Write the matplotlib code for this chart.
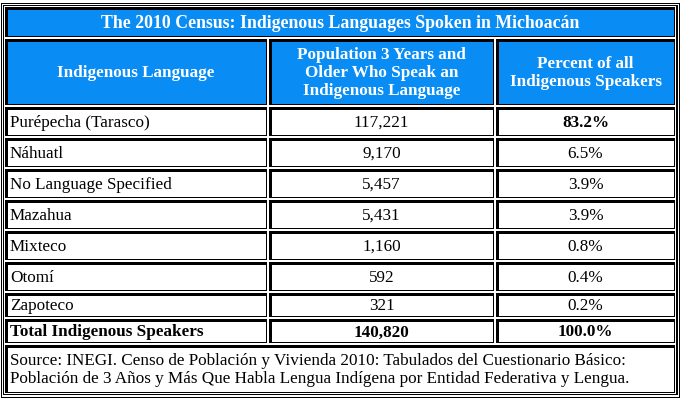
import matplotlib
matplotlib.use("Agg")
import matplotlib.pyplot as plt
from matplotlib.patches import Rectangle

title = "The 2010 Census: Indigenous Languages Spoken in Michoacán"
headers = ["Indigenous Language", "Population 3 Years and\nOlder Who Speak an\nIndigenous Language", "Percent of all\nIndigenous Speakers"]
languages = ["Purépecha (Tarasco)", "Náhuatl", "No Language Specified", "Mazahua", "Mixteco", "Otomí", "Zapoteco"]
population = ["117,221", "9,170", "5,457", "5,431", "1,160", "592", "321"]
percent = ["83.2%", "6.5%", "3.9%", "3.9%", "0.8%", "0.4%", "0.2%"]
total = ["Total Indigenous Speakers", "140,820", "100.0%"]
source = "Source: INEGI. Censo de Población y Vivienda 2010: Tabulados del Cuestionario Básico:\nPoblación de 3 Años y Más Que Habla Lengua Indígena por Entidad Federativa y Lengua."

BLUE = "#0A8CF5"
FONT = "Liberation Serif"
FS = 12.3
fig = plt.figure(figsize=(6.82, 4.05), dpi=100)
ax = fig.add_axes([0, 0, 1, 1])
ax.set_xlim(0, 682); ax.set_ylim(405, 0); ax.axis("off")

ax.add_patch(Rectangle((1, 3), 679, 395, fc="black", ec="none"))
ax.add_patch(Rectangle((2, 4), 677, 393, fc="white", ec="none"))
ax.add_patch(Rectangle((3, 5), 675, 390, fc="black", ec="none"))

def cell(x0, y0, x1, y1, fill):
    ax.add_patch(Rectangle((x0, y0), x1 - x0, y1 - y0, fc="white", ec="none"))
    ax.add_patch(Rectangle((x0 + 1, y0 + 1), x1 - x0 - 2, y1 - y0 - 2, fc="black", ec="none"))
    ax.add_patch(Rectangle((x0 + 4, y0 + 4), x1 - x0 - 6, y1 - y0 - 6, fc=fill, ec="none"))

def txt(x, y, s, ha="center", bold=False, color="black", size=FS, ls=1.0):
    ax.text(x, y, s, ha=ha, va="center", family=FONT, fontsize=size,
            fontweight="bold" if bold else "normal", color=color, linespacing=ls)

cols = [(4, 268), (268, 495), (495, 676)]
cell(4, 6, 676, 38, BLUE)
txt(340, 23, title, bold=True, color="white", size=12.8)
for (a, b), h in zip(cols, headers):
    cell(a, 38, b, 106, BLUE)
    txt((a + b) / 2, 73, h, bold=True, color="white", ls=1.2)

bounds = [106, 137, 168, 199, 230, 261, 292, 318]
for i, (lang, pop, pct) in enumerate(zip(languages, population, percent)):
    y0, y1 = bounds[i], bounds[i + 1]
    for a, b in cols:
        cell(a, y0, b, y1, "white")
    yc = (y0 + y1) / 2 + 1.5
    txt(10, yc, lang, ha="left")
    txt((cols[1][0] + cols[1][1]) / 2, yc, pop)
    txt((cols[2][0] + cols[2][1]) / 2, yc, pct, bold=(i == 0))

y0, y1 = 318, 344
for a, b in cols:
    cell(a, y0, b, y1, "white")
yc = (y0 + y1) / 2 + 1.5
txt(10, yc, total[0], ha="left", bold=True)
txt((cols[1][0] + cols[1][1]) / 2, yc, total[1], bold=True)
txt((cols[2][0] + cols[2][1]) / 2, yc, total[2], bold=True)

cell(4, 344, 676, 394, "white")
ax.text(10, 370, source, ha="left", va="center", family=FONT, fontsize=FS, linespacing=1.2)

fig.savefig("out.png", dpi=100)
